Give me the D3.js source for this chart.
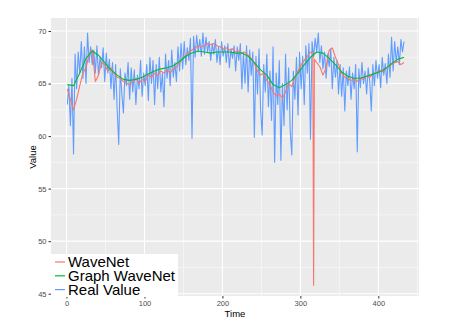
<!DOCTYPE html>
<html>
<head>
<meta charset="utf-8">
<script src="https://cdn.jsdelivr.net/npm/d3@7"></script>
<style>
	body { margin:0; background:#fff; }
	text { font-family: "Liberation Sans", Arial, sans-serif; }
</style>
</head>
<body>
<div id="chart"></div>
<script>
(function(){
	// ---------- data ----------
	const seriesNames = ["WaveNet", "Graph WaveNet", "Real Value"];
	const xTicks = [0, 100, 200, 300, 400];
	const yTicks = [45, 50, 55, 60, 65, 70];

	// Graph WaveNet, one value every 8 time steps from t=1
	const graphWaveNet = [64.9, 64.8, 66.0, 67.4, 68.1, 67.7, 67.0, 66.3, 65.8, 65.4,
		65.3, 65.4, 65.6, 65.9, 66.2, 66.4, 66.5, 66.7, 67.1, 67.6,
		67.9, 68.1, 68.0, 67.9, 68.0, 68.0, 68.0, 67.9, 67.9, 67.6,
		67.0, 66.3, 65.8, 64.9, 64.6, 64.9, 65.3, 66.0, 66.8, 67.5,
		68.0, 67.9, 67.4, 66.8, 66.1, 65.7, 65.5, 65.5, 65.7, 65.9,
		66.1, 66.4, 66.9, 67.3, 67.5];

	// WaveNet, one value every 4 time steps from t=1
	const waveNet = [64.5, 63.5, 62.5, 63.5, 64.8, 66.0, 66.5, 67.8, 68.2, 65.2,
		65.8, 67.0, 66.8, 66.2, 66.5, 66.0, 65.6, 65.5, 65.2, 65.0,
		64.9, 65.2, 65.5, 65.0, 65.4, 65.2, 65.8, 65.6, 66.0, 65.8,
		66.2, 66.0, 66.3, 66.0, 66.4, 66.6, 67.0, 67.4, 67.7, 68.0,
		68.2, 68.4, 68.6, 68.5, 68.6, 68.8, 68.7, 68.8, 68.6, 68.5,
		68.3, 68.4, 68.2, 68.3, 68.0, 68.1, 67.9, 68.0, 67.7, 67.4,
		66.9, 66.2, 65.8, 66.0, 65.3, 64.9, 64.2, 63.8, 64.0, 63.6,
		64.2, 65.0, 64.7, 65.6, 66.2, 66.8, 67.2, 67.6, 68.0, 45.8,
		67.0, 66.6, 65.8, 66.5, 68.2, 68.4, 67.5, 66.8, 66.0, 65.6,
		65.5, 65.3, 65.4, 65.2, 65.5, 65.4, 65.7, 65.6, 65.9, 66.0,
		66.2, 66.1, 66.4, 66.6, 66.8, 67.0, 67.1, 66.8, 67.0];
	// WaveNet points next to the drop at t=317 (time, value)
	const waveNetSpikeTime = [316, 318];
	const waveNetSpikeValue = [67.9, 67.3];

	// Real Value, one value every 2 time steps from t=1
	const realValue = [63.0, 64.8, 61.0, 65.5, 58.3, 67.8, 64.5, 68.0, 66.0, 69.0,
		65.5, 68.5, 65.0, 69.8, 67.0, 68.5, 66.8, 68.2, 66.0, 68.6,
		65.8, 67.5, 66.5, 68.4, 65.2, 67.9, 66.0, 67.3, 64.5, 67.0,
		63.5, 66.8, 62.5, 59.2, 66.4, 64.0, 62.2, 66.0, 64.8, 67.0,
		63.5, 66.5, 64.2, 66.3, 63.0, 65.8, 64.5, 67.2, 63.8, 66.0,
		64.8, 66.8, 63.4, 67.5, 65.0, 67.2, 63.0, 66.8, 64.5, 67.5,
		64.2, 66.0, 62.8, 67.8, 65.5, 67.2, 64.8, 68.2, 65.6, 67.0,
		65.2, 68.5, 66.2, 68.8, 66.4, 69.0, 66.8, 68.4, 67.2, 69.3,
		59.8, 69.5, 67.5, 69.6, 68.0, 69.2, 67.6, 69.8, 67.8, 69.4,
		68.0, 69.0, 67.2, 68.8, 67.8, 69.2, 67.0, 68.5, 66.8, 69.0,
		67.6, 68.6, 67.0, 68.8, 66.5, 68.3, 67.4, 68.6, 66.2, 68.5,
		67.2, 68.8, 64.5, 68.0, 65.0, 68.6, 64.2, 68.2, 65.8, 68.0,
		59.9, 67.6, 64.0, 68.3, 62.5, 60.1, 66.8, 64.2, 67.8, 62.8,
		66.2, 61.5, 68.5, 57.5, 66.0, 63.0, 67.2, 57.7, 65.0, 61.0,
		67.8, 62.5, 66.5, 60.5, 58.2, 66.2, 63.5, 67.5, 62.0, 68.0,
		64.5, 67.6, 63.0, 68.6, 66.0, 68.8, 59.7, 69.0, 67.5, 69.3,
		68.0, 69.8, 67.0, 68.6, 66.4, 68.0, 65.5, 67.8, 66.6, 68.3,
		64.5, 67.5, 65.6, 67.2, 64.0, 66.8, 63.8, 66.5, 62.4, 66.2,
		64.8, 66.6, 63.5, 66.0, 64.5, 66.8, 58.5, 66.4, 64.6, 67.0,
		65.0, 66.2, 64.0, 66.5, 65.2, 62.4, 66.8, 64.8, 67.2, 65.5,
		66.8, 64.6, 67.5, 65.8, 66.9, 65.0, 67.8, 65.6, 69.4, 66.2,
		69.0, 67.0, 68.5, 66.8, 69.2, 68.0, 69.0];

	const colors = ["#F8766D", "#00BA38", "#619CFF"];

	// ---------- layout ----------
	var width = 474, height = 332;
	var panel = { left:51, right:419, top:18, bottom:296 };

	var svg = d3.select("#chart")
				.append("svg")
				.attr("width", width)
				.attr("height", height);

	var x = d3.scaleLinear()
			  .domain([-19.9, 452.2])
			  .range([panel.left, panel.right]);

	var y = d3.scaleLinear()
			  .domain([44.78, 71.24])
			  .range([panel.bottom, panel.top]);

	// panel background
	svg.append("rect")
	   .attr("x", panel.left)
	   .attr("y", panel.top)
	   .attr("width", panel.right - panel.left)
	   .attr("height", panel.bottom - panel.top)
	   .attr("fill", "#EBEBEB");

	// grid, minor lines halfway between the breaks
	var xMinor = xTicks.map(d => d + 50).filter(d => x(d) < panel.right);
	var yMinor = yTicks.map(d => d + 2.5).filter(d => y(d) > panel.top);
	var grid = svg.append("g").attr("stroke", "#fff");

	grid.selectAll(".xminor")
		.data(xMinor)
		.enter().append("line")
		.attr("x1", d => x(d)).attr("x2", d => x(d))
		.attr("y1", panel.top).attr("y2", panel.bottom)
		.attr("stroke-width", 0.5);

	grid.selectAll(".yminor")
		.data(yMinor)
		.enter().append("line")
		.attr("x1", panel.left).attr("x2", panel.right)
		.attr("y1", d => y(d)).attr("y2", d => y(d))
		.attr("stroke-width", 0.5);

	grid.selectAll(".xmajor")
		.data(xTicks)
		.enter().append("line")
		.attr("x1", d => x(d)).attr("x2", d => x(d))
		.attr("y1", panel.top).attr("y2", panel.bottom)
		.attr("stroke-width", 1.1);

	grid.selectAll(".ymajor")
		.data(yTicks)
		.enter().append("line")
		.attr("x1", panel.left).attr("x2", panel.right)
		.attr("y1", d => y(d)).attr("y2", d => y(d))
		.attr("stroke-width", 1.1);

	// axes
	var xAxis = svg.append("g")
				   .attr("transform", "translate(0," + panel.bottom + ")")
				   .call(d3.axisBottom(x).tickValues(xTicks).tickSize(2.5).tickPadding(2));
	var yAxis = svg.append("g")
				   .attr("transform", "translate(" + panel.left + ",0)")
				   .call(d3.axisLeft(y).tickValues(yTicks).tickSize(2.5).tickPadding(2));

	[xAxis, yAxis].forEach(function(a){
		a.select(".domain").remove();
		a.selectAll(".tick line").attr("stroke", "#333");
		a.selectAll(".tick text")
		 .attr("fill", "#4D4D4D")
		 .style("font-size", "7.5px")
		 .style("font-family", "'Liberation Sans', Arial, sans-serif");
	});

	svg.append("text")
	   .attr("x", (panel.left + panel.right) / 2)
	   .attr("y", 317)
	   .attr("text-anchor", "middle")
	   .style("font-size", "9.5px")
	   .text("Time");

	svg.append("text")
	   .attr("transform", "translate(36," + ((panel.top + panel.bottom) / 2) + ") rotate(-90)")
	   .attr("text-anchor", "middle")
	   .style("font-size", "9.5px")
	   .text("Value");

	// lines
	function toPoints(values, step){
		return values.map((v, i) => ({ t: 1 + i * step, v: v }));
	}
	var redPoints = toPoints(waveNet, 4)
		.concat(waveNetSpikeTime.map((t, i) => ({ t: t, v: waveNetSpikeValue[i] })))
		.sort((a, b) => a.t - b.t);

	var series = [
		{ name: seriesNames[0], points: redPoints, color: colors[0] },
		{ name: seriesNames[1], points: toPoints(graphWaveNet, 8), color: colors[1] },
		{ name: seriesNames[2], points: toPoints(realValue, 2), color: colors[2] }
	];

	var line = d3.line()
				 .x(d => x(d.t))
				 .y(d => y(d.v));

	svg.append("clipPath").attr("id", "clip")
	   .append("rect")
	   .attr("x", panel.left).attr("y", panel.top)
	   .attr("width", panel.right - panel.left)
	   .attr("height", panel.bottom - panel.top);

	// blue underneath, the two models drawn over it
	var drawOrder = [2, 0, 1];
	svg.append("g")
	   .attr("clip-path", "url(#clip)")
	   .selectAll(".series")
	   .data(drawOrder.map(i => series[i]))
	   .enter().append("path")
	   .attr("class", "series")
	   .attr("fill", "none")
	   .attr("stroke", d => d.color)
	   .attr("stroke-width", 1.1)
	   .attr("stroke-linejoin", "round")
	   .attr("d", d => line(d.points));

	// legend
	var legend = svg.append("g");
	legend.append("rect")
		  .attr("x", panel.left)
		  .attr("y", 254)
		  .attr("width", 127)
		  .attr("height", 43)
		  .attr("fill", "#fff");

	var item = legend.selectAll(".item")
					 .data(series)
					 .enter().append("g")
					 .attr("transform", (d, i) => "translate(0," + (i * 13.8) + ")");

	item.append("line")
		.attr("x1", 55).attr("x2", 65)
		.attr("y1", 262).attr("y2", 262)
		.attr("stroke", d => d.color)
		.attr("stroke-width", 1.2);

	item.append("text")
		.attr("x", 68)
		.attr("y", 267.3)
		.style("font-size", "15px")
		.attr("fill", "#000")
		.text(d => d.name);
})();
</script>
</body>
</html>
